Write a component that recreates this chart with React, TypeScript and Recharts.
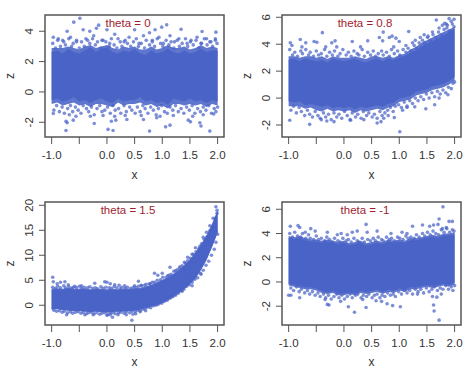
import React from 'react';
import {
  ComposedChart, Area, Scatter, XAxis, YAxis, ReferenceArea, Label
} from 'recharts';

const bandX = [-1, -0.9, -0.8, -0.7, -0.6, -0.5, -0.4, -0.3, -0.2, -0.1, 0, 0.1, 0.2, 0.3, 0.4, 0.5, 0.6, 0.7, 0.8, 0.9, 1, 1.1, 1.2, 1.3, 1.4, 1.5, 1.6, 1.7, 1.8, 1.9, 2];

const band0Hi = [2.6, 2.7, 2.5, 2.8, 2.6, 2.5, 2.7, 2.9, 2.6, 2.8, 2.9, 2.6, 2.5, 2.7, 2.6, 2.8, 2.5, 2.4, 2.7, 2.5, 2.6, 2.8, 2.6, 2.5, 2.7, 2.5, 2.6, 2.8, 2.6, 2.7, 2.7];
const band0Lo = [-0.5, -0.4, -0.6, -0.5, -0.3, -0.6, -0.5, -0.7, -0.5, -0.4, -0.6, -0.7, -0.4, -0.6, -0.5, -0.5, -0.3, -0.6, -0.5, -0.7, -0.6, -0.8, -0.4, -0.5, -0.6, -0.4, -0.6, -0.5, -0.7, -0.5, -0.6];
const halo0Hi = [2.9, 2.9, 2.9, 3.0, 2.9, 2.8, 3.0, 3.1, 2.9, 3.0, 3.1, 2.9, 2.8, 3.0, 2.9, 3.0, 2.8, 2.8, 3.0, 2.8, 2.9, 3.1, 2.9, 2.9, 3.0, 2.8, 2.9, 3.1, 2.9, 3.0, 2.9];
const halo0Lo = [-0.8, -0.7, -0.9, -0.8, -0.7, -0.9, -0.8, -1.0, -0.8, -0.8, -0.9, -1.0, -0.7, -0.9, -0.8, -0.8, -0.7, -0.9, -0.8, -1.0, -0.9, -1.1, -0.8, -0.8, -0.9, -0.8, -0.9, -0.8, -1.0, -0.8, -0.9];

const band1Hi = [2.8, 2.9, 2.7, 2.9, 2.8, 2.7, 2.8, 2.6, 2.9, 2.8, 2.7, 2.8, 2.9, 2.7, 2.6, 2.8, 2.9, 2.7, 2.9, 2.8, 3.0, 3.1, 3.3, 3.5, 3.8, 4.0, 4.2, 4.4, 4.6, 4.9, 5.1];
const band1Lo = [-0.2, -0.3, -0.2, -0.5, -0.4, -0.5, -0.6, -0.5, -0.7, -0.6, -0.7, -0.6, -0.8, -0.6, -0.7, -0.6, -0.5, -0.6, -0.4, -0.3, 0, 0.1, 0.2, 0.5, 0.6, 0.7, 0.9, 1.0, 1.1, 1.3, 1.6];
const halo1Hi = [3.1, 3.1, 3.0, 3.1, 3.1, 3.0, 3.1, 2.9, 3.1, 3.0, 3.0, 3.0, 3.1, 3.0, 2.9, 3.1, 3.1, 3.0, 3.1, 3.0, 3.2, 3.3, 3.6, 3.8, 4.1, 4.3, 4.5, 4.7, 4.9, 5.1, 5.3];
const halo1Lo = [-0.6, -0.6, -0.6, -0.8, -0.7, -0.9, -1.0, -0.8, -1.0, -0.9, -1.0, -0.9, -1.1, -0.9, -1.0, -0.9, -0.8, -0.9, -0.7, -0.6, -0.3, -0.2, -0.1, 0.2, 0.3, 0.4, 0.6, 0.7, 0.8, 1.0, 1.3];

const band2Hi = [3.0, 3.1, 3.0, 3.2, 3.0, 3.0, 3.1, 2.9, 3.0, 3.0, 2.9, 3.0, 2.9, 3.0, 3.0, 3.1, 3.2, 3.5, 3.8, 4.3, 4.8, 5.3, 6.0, 6.8, 7.8, 8.8, 10.2, 11.8, 13.6, 15.8, 18.6];
const band2Lo = [-0.7, -0.6, -0.8, -0.9, -1.0, -1.0, -1.1, -1.2, -1.1, -1.2, -1.3, -1.2, -1.1, -1.1, -1.0, -0.9, -0.7, -0.4, -0.1, 0.2, 0.6, 1.2, 1.9, 2.7, 3.5, 4.5, 5.6, 7.4, 9.4, 12, 14.8];
const halo2Hi = [3.3, 3.4, 3.3, 3.5, 3.3, 3.3, 3.4, 3.2, 3.3, 3.3, 3.2, 3.3, 3.2, 3.3, 3.3, 3.4, 3.5, 3.8, 4.1, 4.6, 5.1, 5.6, 6.3, 7.1, 8.1, 9.2, 10.6, 12.2, 14.0, 16.3, 19.0];
const halo2Lo = [-0.9, -0.8, -1.0, -1.1, -1.2, -1.2, -1.3, -1.4, -1.3, -1.4, -1.5, -1.4, -1.3, -1.3, -1.2, -1.1, -0.9, -0.6, -0.3, 0, 0.4, 1.0, 1.6, 2.4, 3.2, 4.2, 5.3, 7.0, 9.0, 11.6, 14.5];

const band3Hi = [3.6, 3.5, 3.6, 3.4, 3.3, 3.3, 3.2, 3.3, 3.2, 3.1, 3.2, 3.0, 3.1, 3.2, 3.0, 3.1, 3.2, 3.1, 3.3, 3.2, 3.3, 3.2, 3.4, 3.4, 3.5, 3.6, 3.7, 3.6, 3.8, 3.8, 3.9];
const band3Lo = [-0.1, -0.2, -0.3, -0.4, -0.4, -0.5, -0.7, -0.8, -0.7, -0.9, -0.9, -0.8, -0.9, -0.7, -0.8, -0.7, -0.6, -0.8, -0.6, -0.7, -0.5, -0.6, -0.4, -0.4, -0.3, -0.2, -0.3, -0.2, -0.1, -0.2, 0];
const halo3Hi = [3.8, 3.7, 3.8, 3.6, 3.5, 3.5, 3.4, 3.5, 3.4, 3.3, 3.4, 3.2, 3.3, 3.4, 3.2, 3.3, 3.4, 3.3, 3.5, 3.4, 3.5, 3.4, 3.6, 3.6, 3.7, 3.8, 3.9, 3.8, 4.0, 4.0, 4.1];
const halo3Lo = [-0.3, -0.4, -0.5, -0.6, -0.6, -0.7, -0.9, -1.0, -0.9, -1.1, -1.1, -1.0, -1.1, -0.9, -1.0, -0.9, -0.8, -1.0, -0.8, -0.9, -0.7, -0.8, -0.6, -0.6, -0.5, -0.4, -0.5, -0.4, -0.3, -0.4, -0.2];

// the speckled rim of each cloud, read along the top and the bottom
const rimTopX = [-0.98, -0.93, -0.89, -0.84, -0.78, -0.75, -0.69, -0.64, -0.61, -0.55, -0.5, -0.46, -0.41, -0.35, -0.31, -0.26, -0.21, -0.17, -0.11, -0.07, -0.02, 0.04, 0.08, 0.13, 0.18, 0.24, 0.27, 0.33, 0.37, 0.43, 0.48, 0.53, 0.57, 0.62, 0.68, 0.71, 0.77, 0.82, 0.86, 0.91, 0.97, 1.01, 1.07, 1.12, 1.16, 1.21, 1.27, 1.31, 1.36, 1.42, 1.46, 1.51, 1.56, 1.61, 1.66, 1.71, 1.76, 1.81, 1.86, 1.91, 1.96, 1.99];
const rimLowX = [-0.96, -0.91, -0.86, -0.81, -0.77, -0.71, -0.66, -0.62, -0.57, -0.52, -0.47, -0.43, -0.37, -0.33, -0.28, -0.23, -0.18, -0.13, -0.09, -0.04, 0.01, 0.06, 0.11, 0.15, 0.21, 0.25, 0.31, 0.35, 0.41, 0.45, 0.51, 0.55, 0.6, 0.65, 0.69, 0.74, 0.79, 0.84, 0.89, 0.93, 0.99, 1.04, 1.09, 1.14, 1.19, 1.24, 1.29, 1.34, 1.39, 1.44, 1.49, 1.54, 1.59, 1.64, 1.69, 1.74, 1.79, 1.84, 1.89, 1.94, 1.97, 2.0];

const rim0Top = [3.2, 2.9, 3.4, 3.0, 3.3, 3.1, 3.5, 3.0, 3.2, 3.4, 2.9, 3.3, 3.0, 3.4, 3.2, 3.5, 3.1, 3.3, 2.9, 3.4, 3.3, 3.0, 3.5, 3.1, 2.9, 3.3, 3.0, 3.4, 3.2, 3.0, 3.3, 3.5, 3.0, 3.2, 2.9, 3.4, 3.1, 3.3, 3.0, 3.5, 3.2, 3.0, 3.4, 3.1, 3.3, 2.9, 3.4, 3.0, 3.2, 3.5, 3.0, 3.3, 3.1, 3.4, 2.9, 3.2, 3.5, 3.1, 3.3, 3.0, 3.4, 3.2];
const rim0Low = [-1.2, -0.9, -1.3, -1.0, -1.4, -1.1, -0.9, -1.3, -1.0, -1.2, -1.4, -0.9, -1.1, -1.3, -1.0, -1.5, -1.1, -0.9, -1.3, -1.2, -1.0, -1.4, -0.9, -1.2, -1.1, -1.4, -0.9, -1.3, -1.0, -1.2, -1.4, -1.0, -1.3, -0.9, -1.1, -1.4, -1.0, -1.2, -1.5, -1.1, -0.9, -1.3, -1.4, -1.0, -1.2, -0.9, -1.3, -1.1, -1.4, -1.0, -1.2, -0.9, -1.4, -1.1, -1.3, -1.0, -1.2, -0.9, -1.4, -1.1, -1.3, -1.0];

const rim1Top = [3.6, 3.2, 3.4, 3.1, 3.5, 3.3, 3.6, 3.2, 3.4, 3.1, 3.5, 3.2, 3.3, 3.6, 3.1, 3.4, 3.2, 3.5, 3.1, 3.3, 3.6, 3.2, 3.4, 3.1, 3.5, 3.3, 3.2, 3.6, 3.1, 3.4, 3.2, 3.5, 3.1, 3.3, 3.5, 3.2, 3.4, 3.1, 3.6, 3.3, 3.5, 3.2, 3.6, 3.4, 3.7, 3.5, 3.9, 3.7, 4.1, 4.3, 4.1, 4.5, 4.3, 4.7, 4.5, 4.9, 4.7, 5.1, 5.2, 5.0, 5.5, 5.3];
const rim1Low = [-0.9, -0.6, -1.1, -0.7, -1.0, -1.3, -0.9, -1.2, -1.4, -1.0, -1.3, -1.5, -1.1, -1.4, -1.2, -1.6, -1.1, -1.4, -1.2, -1.5, -1.0, -1.3, -1.6, -1.1, -1.4, -1.2, -1.5, -1.0, -1.3, -1.1, -1.4, -1.2, -1.5, -1.0, -1.3, -1.1, -0.9, -0.7, -1.0, -0.6, -0.5, -0.7, -0.3, -0.6, -0.2, -0.4, 0.0, -0.2, 0.1, -0.1, 0.3, 0.0, 0.4, 0.1, 0.5, 0.3, 0.6, 0.4, 0.8, 0.7, 1.1, 1.2];

const rim2Top = [3.6, 3.4, 3.8, 3.5, 3.9, 3.5, 3.7, 3.4, 3.6, 3.5, 3.8, 3.4, 3.6, 3.5, 3.7, 3.4, 3.5, 3.3, 3.7, 3.4, 3.6, 3.5, 3.4, 3.7, 3.5, 3.3, 3.6, 3.4, 3.6, 3.4, 3.6, 3.5, 3.8, 3.9, 4.0, 4.2, 4.3, 4.6, 4.6, 5.0, 5.1, 5.6, 5.6, 6.0, 6.2, 6.8, 7.1, 7.4, 7.9, 8.4, 8.9, 9.4, 10.2, 10.7, 11.3, 12.3, 13.2, 13.7, 14.9, 15.7, 17.4, 18.4];
const rim2Low = [-1.0, -1.2, -1.1, -1.4, -1.2, -1.5, -1.3, -1.6, -1.4, -1.3, -1.6, -1.4, -1.7, -1.5, -1.4, -1.7, -1.5, -1.8, -1.6, -1.5, -1.9, -1.6, -1.5, -1.7, -1.5, -1.4, -1.6, -1.3, -1.5, -1.2, -1.3, -1.0, -1.1, -0.8, -0.7, -0.4, -0.5, -0.1, 0.0, 0.2, 0.4, 0.8, 1.0, 1.4, 1.7, 2.0, 2.4, 2.9, 3.2, 3.8, 4.1, 4.6, 5.2, 5.5, 6.4, 7.0, 8.0, 8.8, 10.0, 11.2, 12.6, 14.2];

const rim3Top = [4.0, 3.7, 4.1, 3.8, 3.7, 4.0, 3.6, 3.9, 3.6, 3.5, 3.8, 3.5, 3.6, 3.4, 3.7, 3.5, 3.3, 3.6, 3.4, 3.3, 3.6, 3.4, 3.5, 3.3, 3.6, 3.4, 3.3, 3.6, 3.3, 3.5, 3.4, 3.6, 3.4, 3.7, 3.5, 3.4, 3.7, 3.5, 3.6, 3.4, 3.7, 3.6, 3.5, 3.8, 3.6, 3.7, 3.6, 3.9, 3.7, 4.0, 3.8, 4.1, 3.9, 4.2, 4.0, 3.9, 4.3, 4.1, 4.4, 4.1, 4.3, 4.2];
const rim3Low = [-0.5, -0.7, -0.4, -0.8, -0.6, -0.9, -0.7, -1.0, -0.8, -1.1, -0.9, -1.2, -1.0, -1.3, -1.1, -1.4, -1.2, -1.0, -1.3, -1.1, -1.4, -1.2, -1.0, -1.3, -1.1, -1.0, -1.3, -1.1, -1.2, -1.0, -1.3, -1.1, -1.0, -1.3, -1.1, -1.2, -0.9, -1.1, -1.0, -1.2, -0.8, -1.0, -0.7, -0.9, -0.7, -1.0, -0.6, -0.8, -0.6, -0.9, -0.5, -0.8, -0.6, -0.4, -0.7, -0.5, -0.6, -0.3, -0.6, -0.4, -0.7, -0.3];

const points0: number[][] = [
  [-0.49, 4.86], [-0.6, 4.6], [-0.15, 4.4], [-0.19, 4.2], [-0.43, 4.1], [-0.72, 4.0], [-0.31, 4.0], [0, 4.1], [0.5, 4.1], [0.99, 4.27], [1.08, 4.42], [1.34, 4.13], [1.72, 3.98], [1.97, 3.94], [0.87, 4.1], [0.77, 3.9],
  [-0.97, 3.6], [0.14, 3.8], [-0.88, 3.5], [-0.8, 3.4], [-0.66, 3.6], [-0.55, 3.3], [-0.38, 3.5], [-0.24, 3.7], [-0.09, 3.4], [0.05, 3.2], [0.2, 3.5], [0.31, 3.3], [0.4, 3.6], [0.58, 3.2], [0.66, 3.7], [0.82, 3.4], [0.94, 3.6], [1.02, 3.2], [1.14, 3.7], [1.22, 3.3], [1.3, 3.5], [1.45, 3.2], [1.52, 3.4], [1.63, 3.6], [1.7, 3.2], [1.8, 3.5], [1.88, 3.3], [1.96, 3.5],
  [-0.74, -2.54], [0.02, -2.47], [0.11, -2.54], [0.77, -2.58], [1.86, -2.58], [1.06, -2.3], [1.14, -2.19], [-0.23, -2.08], [-0.74, -1.93], [-0.72, -2.03], [1.68, -2.03], [1.7, -2.25], [1.47, -1.86], [1.51, -1.97], [0.16, -1.86], [0.08, -1.93], [0.66, -1.82], [-0.61, -1.86], [0.36, -1.82], [0.9, -1.7], [-0.97, -1.42],
  [-0.68, -1.5], [-0.56, -1.6], [-0.3, -1.6], [-0.07, -1.55], [0.14, -1.6], [0.33, -1.55], [0.62, -1.55], [0.96, -1.6], [1.2, -1.55], [1.55, -1.6], [1.74, -1.5], [1.93, -1.45]
];

const points1: number[][] = [
  [-0.39, 4.86], [-0.16, 4.25], [-0.22, 4.1], [-0.54, 4.2], [-0.49, 4.15], [-0.79, 4.35], [-0.97, 4.1], [-0.69, 4.1], [0.15, 4.2], [0.43, 4.25], [0.64, 4.5], [0.7, 4.25], [0.71, 4.9], [0.82, 4.5], [0.87, 4.6], [1.0, 4.2], [1.17, 4.95], [0.94, 4.45],
  [-0.94, 3.9], [-0.76, 3.8], [-0.33, 3.8], [-0.13, 3.8], [0.3, 3.8], [0.9, 3.8], [1.12, 3.9], [1.24, 4.1], [1.29, 4.3], [1.38, 4.5], [1.45, 4.7], [1.52, 4.6], [1.6, 4.9], [1.67, 5.8], [1.72, 5.2], [1.78, 5.4], [1.82, 5.55], [1.87, 5.4], [1.9, 5.9], [1.94, 5.7], [1.99, 5.85], [1.85, 5.5],
  [-0.62, -1.95], [0.6, -1.85], [0.67, -1.75], [1.01, -2.5], [0.91, -1.45], [-0.98, -1.65], [-0.41, -1.6], [-0.31, -1.7], [-0.18, -1.75], [0.12, -1.65], [0.36, -1.6], [0.72, -1.5], [0.8, -1.3], [1.06, -0.9], [1.14, -0.7], [1.28, -0.65], [1.48, -0.8], [1.64, -0.5], [1.72, 0.0], [1.88, 0.25]
];

const points2: number[][] = [
  [-0.98, 5.6], [-0.97, 4.7], [-0.9, 4.3], [-0.84, 4.6], [-0.76, 4.7], [-0.7, 4.1], [-0.58, 3.8], [-0.46, 3.9], [-0.22, 4.4], [-0.04, 4.7], [0, 4.6], [0.06, 4.3], [0.14, 4.1], [0.22, 4.0], [0.32, 3.9], [0.5, 3.9], [0.57, 4.8], [0.62, 4.0], [0.78, 4.3], [0.86, 6.4], [0.92, 6.0], [1.0, 6.4], [1.1, 5.9], [1.14, 7.6], [1.24, 6.9], [1.32, 7.7], [1.4, 8.6], [1.46, 9.6], [1.54, 10.2], [1.6, 11.5], [1.68, 11.8], [1.74, 13.6], [1.8, 14.6], [1.86, 15.9], [1.92, 17.4], [1.97, 19.7], [1.99, 19],
  [0.45, -3.0], [0.1, -2.4], [-0.73, -1.9], [-0.4, -1.9], [-0.25, -1.9], [0, -2.0], [0.06, -1.9], [0.2, -1.9], [0.35, -1.9], [0.47, -1.8], [0.52, -1.7], [0.6, -1.3], [0.7, -1.1], [1.36, 2.8], [1.54, 3.9], [1.7, 6.2]
];

const points3: number[][] = [
  [1.79, 6.2], [1.72, 5.2], [-0.97, 4.6], [-0.83, 4.65], [-0.8, 4.5], [-0.7, 4.1], [-0.6, 4.4], [-0.52, 4.2], [-0.3, 4.1], [-0.12, 3.9], [-0.05, 4.0], [0.06, 3.9], [0.15, 4.1], [0.24, 4.2], [0.4, 4.75], [0.42, 4.1], [0.6, 4.2], [0.85, 4.0], [1.05, 4.1], [1.14, 4.0], [1.24, 4.6], [1.42, 4.7], [1.55, 4.6], [1.62, 4.7], [1.7, 4.75], [1.85, 4.5], [1.9, 5.0], [1.96, 5.0], [1.78, 4.4],
  [0.19, -2.5], [1.62, -1.9], [1.63, -2.4], [1.72, -3.15], [0.08, -2.05], [0.4, -2.1], [1.02, -2.05], [0.78, -1.8], [0.88, -1.95], [-0.3, -1.85], [-0.27, -1.9], [-1.0, -1.1], [-0.96, -1.1], [-0.8, -1.3], [-0.34, -1.45], [-0.06, -1.6], [0.34, -1.45], [0.58, -1.55], [0.68, -1.6], [1.33, -1.0], [1.6, -1.2], [1.68, -1.25], [1.76, -1.0]
];

const xTicks = [-1, -0.5, 0, 0.5, 1, 1.5, 2];
const xLabels = ['-1.0', '', '0.0', '0.5', '1.0', '1.5', '2.0'];

const panels = [
  { title: 'theta = 0', hi: band0Hi, lo: band0Lo, haloHi: halo0Hi, haloLo: halo0Lo, rimTop: rim0Top, rimLow: rim0Low, points: points0, yTicks: [-2, 0, 2, 4], yDomain: [-2.97, 5.07], left: 0, top: 0, mt: 15, mb: 50 },
  { title: 'theta = 0.8', hi: band1Hi, lo: band1Lo, haloHi: halo1Hi, haloLo: halo1Lo, rimTop: rim1Top, rimLow: rim1Low, points: points1, yTicks: [-2, 0, 2, 4, 6], yDomain: [-2.89, 6.17], left: 237, top: 0, mt: 15, mb: 50 },
  { title: 'theta = 1.5', hi: band2Hi, lo: band2Lo, haloHi: halo2Hi, haloLo: halo2Lo, rimTop: rim2Top, rimLow: rim2Low, points: points2, yTicks: [0, 5, 10, 15, 20], yDomain: [-3.95, 20.66], left: 0, top: 187, mt: 15, mb: 49 },
  { title: 'theta = -1', hi: band3Hi, lo: band3Lo, haloHi: halo3Hi, haloLo: halo3Lo, rimTop: rim3Top, rimLow: rim3Low, points: points3, yTicks: [-2, 0, 2, 4, 6], yDomain: [-3.55, 6.6], left: 237, top: 187, mt: 15, mb: 49 },
];

const TEXT = '#333';
const BOX = '#555';
const CORE = '#4a63c6';
const FONT = 'Liberation Sans, Arial, sans-serif';

const XTick = ({ x, y, payload }: any) => {
  const i = xTicks.indexOf(payload.value);
  return (
    <text x={x} y={y + 15} textAnchor="middle" fontSize={11.5} fill={TEXT} fontFamily={FONT}>
      {xLabels[i]}
    </text>
  );
};

const YTick = ({ x, y, payload }: any) => (
  <text
    x={x - 6}
    y={y}
    transform={`rotate(-90 ${x - 6} ${y})`}
    textAnchor="middle"
    fontSize={11.5}
    fill={TEXT}
    fontFamily={FONT}
  >
    {payload.value}
  </text>
);

const Dot = ({ cx, cy }: any) => <circle cx={cx} cy={cy} r={1.8} fill={CORE} fillOpacity={0.72} />;

function Panel({ panel }: any) {
  const band = bandX.map((x, i) => ({
    x,
    band: [panel.lo[i], panel.hi[i]],
    halo: [panel.haloLo[i], panel.haloHi[i]],
  }));
  const pts = [
    ...panel.points.map((p: number[]) => ({ x: p[0], z: p[1] })),
    ...rimTopX.map((x, i) => ({ x, z: panel.rimTop[i] })),
    ...rimLowX.map((x, i) => ({ x, z: panel.rimLow[i] })),
  ];
  const xDomain = [-1.12, 2.116];
  return (
    <div style={{ position: 'absolute', left: panel.left, top: panel.top, width: 237, height: 187 }}>
      <ComposedChart
        width={237}
        height={187}
        data={band}
        margin={{ top: panel.mt, right: 13, bottom: 0, left: 0 }}
      >
        <XAxis
          dataKey="x"
          type="number"
          domain={xDomain}
          ticks={xTicks}
          interval={0}
          height={panel.mb}
          tickSize={7}
          tickMargin={0}
          axisLine={false}
          tickLine={{ stroke: BOX, strokeWidth: 1 }}
          tick={<XTick />}
        >
          <Label value="x" position="insideBottom" offset={8} fontSize={12} fill={TEXT} fontFamily={FONT} />
        </XAxis>
        <YAxis
          type="number"
          domain={panel.yDomain}
          ticks={panel.yTicks}
          interval={0}
          width={45}
          tickSize={6}
          tickMargin={0}
          axisLine={false}
          tickLine={{ stroke: BOX, strokeWidth: 1 }}
          tick={<YTick />}
        >
          <Label value="z" angle={-90} position="insideLeft" offset={10} dy={3} fontSize={12} fill={TEXT} fontFamily={FONT} />
        </YAxis>
        <Area dataKey="halo" type="linear" stroke="none" fill="#5f76cf" fillOpacity={1} dot={false} activeDot={false} isAnimationActive={false} />
        <Area dataKey="band" type="linear" stroke={CORE} strokeWidth={1} fill={CORE} fillOpacity={1} dot={false} activeDot={false} isAnimationActive={false} />
        <Scatter data={pts} dataKey="z" shape={<Dot />} isAnimationActive={false} />
        <ReferenceArea x1={xDomain[0]} x2={xDomain[1]} y1={panel.yDomain[0]} y2={panel.yDomain[1]} fill="none" stroke={BOX} strokeWidth={1.5} fillOpacity={0} />
      </ComposedChart>
      <div style={{ position: 'absolute', left: 128, top: 23, transform: 'translate(-50%, -50%)', color: '#a11d2e', fontSize: 11.5, fontFamily: FONT, whiteSpace: 'nowrap' }}>
        {panel.title}
      </div>
    </div>
  );
}

export default function App() {
  return (
    <div style={{ position: 'absolute', left: 0, top: 0, width: 474, height: 374, background: '#fff' }}>
      {panels.map((p) => <Panel key={p.title} panel={p} />)}
    </div>
  );
}
